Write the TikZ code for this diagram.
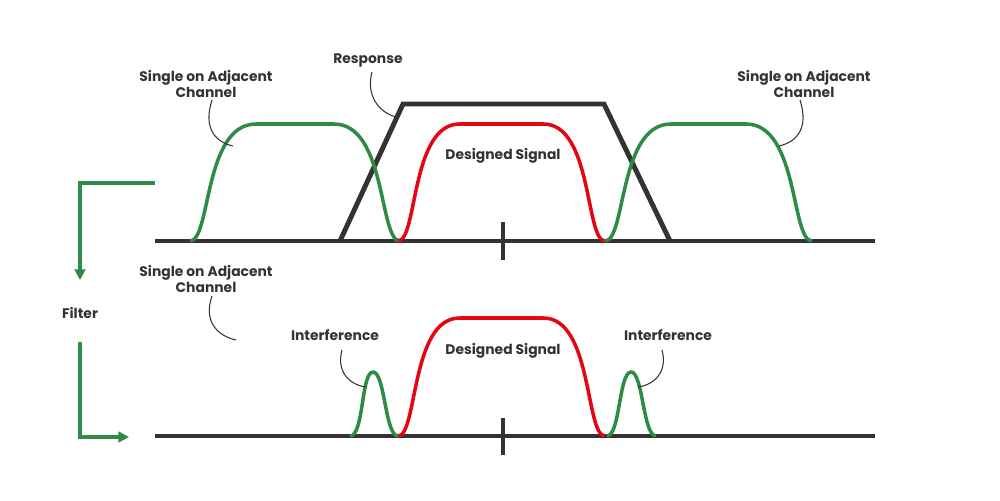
\documentclass[tikz,border=0pt]{standalone}
\usepackage{fontspec}
\setmainfont{Poppins}
\usetikzlibrary{arrows.meta}
\definecolor{dk}{HTML}{333333}
\definecolor{gr}{HTML}{2E8B45}
\definecolor{rd}{HTML}{E30613}
\newcommand{\mybump}[5]{(#1,#4) .. controls ({#1+0.7*#5},#4) and ({#1+0.45*#5},#3) .. ({#1+2.2*#5},#3) -- ({#2-2.2*#5},#3) .. controls ({#2-0.45*#5},#3) and ({#2-0.7*#5},#4) .. (#2,#4)}
\begin{document}
\begin{tikzpicture}[x=0.02cm,y=-0.02cm,
  lbl/.style={font=\bfseries\fontsize{7.9}{8.6}\selectfont,text=dk,align=center,inner sep=0pt},
  axis/.style={line width=2.8pt,draw=dk},
  sig/.style={line width=2pt,line join=round},
  lead/.style={line width=0.6pt,draw=dk},
  flow/.style={line width=1.8pt,draw=gr,-{Triangle[length=6pt,width=6pt]}}]
\useasboundingbox (0,0) rectangle (1000,500);
% axes
\draw[axis] (155,241) -- (875,241);
\draw[axis] (503,222) -- (503,260);
\draw[axis] (155,436) -- (875,436);
\draw[axis] (503,418) -- (503,455);
% response
\draw[line width=2.8pt,dk,line join=miter] (340,241) -- (403,104) -- (604,104) -- (670,241);
% top signals
\draw[sig,gr] \mybump{190}{400}{124}{241}{30};
\draw[sig,rd] \mybump{398}{605}{124}{241}{28};
\draw[sig,gr] \mybump{605}{812}{124}{241}{30};
% bottom
\draw[sig,rd] \mybump{398}{605}{318}{436}{28};
\draw[sig,gr] (350,436) .. controls (364,436) and (361,372) .. (373,372) .. controls (385,372) and (385,436) .. (398,436);
\draw[sig,gr] (607,436) .. controls (620,436) and (619,372) .. (631,372) .. controls (643,372) and (643,436) .. (656,436);
% labels
\node[lbl] (l1) at (206,84) {Single on Adjacent\\Channel};
\node[lbl] (l2) at (368,60) {Response};
\node[lbl] (l3) at (503,156) {Designed Signal};
\node[lbl] (l4) at (804,84) {Single on Adjacent\\Channel};
\node[lbl] (l5) at (206,279) {Single on Adjacent\\Channel};
\node[lbl] (l6) at (335,335) {Interference};
\node[lbl] (l7) at (503,351) {Designed Signal};
\node[lbl] (l8) at (668,335) {Interference};
\node[lbl] (f) at (80,313) {Filter};
% leaders
\draw[lead] (212,100) .. controls (203,128) and (215,142) .. (233,146);
\draw[lead] (372,72) .. controls (366,95) and (378,112) .. (396,117);
\draw[lead] (800,100) .. controls (809,128) and (797,142) .. (779,146);
\draw[lead] (212,296) .. controls (203,322) and (218,336) .. (236,340);
\draw[lead] (342,350) .. controls (336,372) and (350,385) .. (366,387);
\draw[lead] (662,350) .. controls (668,372) and (654,385) .. (638,387);
% flow arrows
\coordinate (a0) at (155,183);
\coordinate (a1) at (80,183);
\coordinate (a2) at (80,280);
\coordinate (b0) at (80,342);
\coordinate (b1) at (80,437);
\coordinate (b2) at (129,437);
\draw[flow] (a0) -- (a1) -- (a2);
\draw[flow] (b0) -- (b1) -- (b2);
\end{tikzpicture}
\end{document}
